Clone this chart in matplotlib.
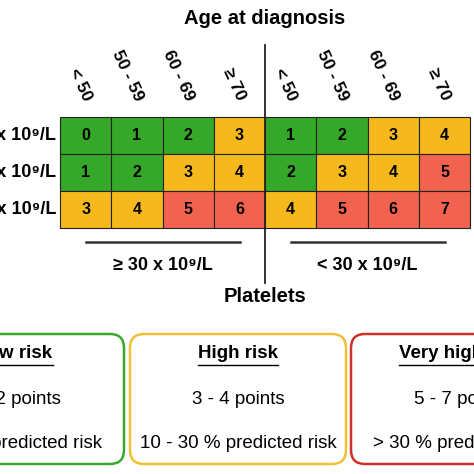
import matplotlib
matplotlib.use("Agg")
import matplotlib.pyplot as plt
from matplotlib.patches import Rectangle, FancyBboxPatch

age_groups = ["< 50", "50 - 59", "60 - 69", "≥ 70"]
row_labels = ["≥ 100 x 10⁹/L", "50 - 99 x 10⁹/L", "< 50 x 10⁹/L"]
scores_high_plt = [[0, 1, 2, 3], [1, 2, 3, 4], [3, 4, 5, 6]]
scores_low_plt = [[1, 2, 3, 4], [2, 3, 4, 5], [4, 5, 6, 7]]
block_labels = ["≥ 30 x 10⁹/L", "< 30 x 10⁹/L"]
risk_titles = ["Low risk", "High risk", "Very high risk"]
risk_points = ["0 - 2 points", "3 - 4 points", "5 - 7 points"]
risk_pred = ["< 10 % predicted risk", "10 - 30 % predicted risk", "> 30 % predicted risk"]

GREEN, AMBER, RED = "#36a829", "#f6b91d", "#f2634f"
def col(v):
    return GREEN if v <= 2 else (AMBER if v <= 4 else RED)

fig = plt.figure(figsize=(4.74, 4.74), dpi=100)
ax = fig.add_axes([0, 0, 1, 1])
ax.set_xlim(0, 474); ax.set_ylim(474, 0); ax.axis("off")
F = "Liberation Sans"

x0s = [60, 265]; cw = 51.3; y0 = 117; rh = 37
for b, data in enumerate([scores_high_plt, scores_low_plt]):
    for r, row in enumerate(data):
        for c, v in enumerate(row):
            x = x0s[b] + c * cw; y = y0 + r * rh
            ax.add_patch(Rectangle((x, y), cw, rh, facecolor=col(v), edgecolor="#222", lw=0.8))
            ax.text(x + cw / 2, y + rh / 2, str(v), ha="center", va="center", fontsize=11.5, fontweight="bold", family=F)
    for c, g in enumerate(age_groups):
        ax.text(x0s[b] + c * cw + cw / 2 + 2, 100, g, rotation=-65, ha="right", va="center",
                fontsize=12.5, fontweight="bold", family=F, rotation_mode="anchor")
    cx = x0s[b] + 2 * cw
    ax.plot([cx - 77, cx + 77], [242, 242], color="#333", lw=1.8)
    ax.text(cx, 266, block_labels[b], ha="center", va="center", fontsize=13, fontweight="bold", family=F)
for r, lab in enumerate(row_labels):
    ax.text(56, y0 + r * rh + rh / 2, lab, ha="right", va="center", fontsize=13, fontweight="bold", family=F)

ax.plot([265, 265], [45, 283], color="#222", lw=1.3)
ax.text(265, 18, "Age at diagnosis", ha="center", va="center", fontsize=14.5, fontweight="bold", family=F)
ax.text(265, 296, "Platelets", ha="center", va="center", fontsize=14.5, fontweight="bold", family=F)

boxes = [(-95, 124, "#3aa92e"), (130, 346, "#f0c035"), (351, 570, "#d0302a")]
title_objs = []
for i, (xa, xb, ec) in enumerate(boxes):
    ax.add_patch(FancyBboxPatch((xa, 334), xb - xa, 130, boxstyle="round,pad=0,rounding_size=14",
                                facecolor="white", edgecolor=ec, lw=1.8))
    cx = (xa + xb) / 2
    t = ax.text(cx, 354, risk_titles[i], ha="center", va="center", fontsize=13.5, fontweight="bold", family=F)
    title_objs.append(t)
    ax.text(cx, 399, risk_points[i], ha="center", va="center", fontsize=13.5, family=F)
    ax.text(cx, 443, risk_pred[i], ha="center", va="center", fontsize=13.5, family=F)

fig.canvas.draw()
inv = ax.transData.inverted()
for t in title_objs:
    bb = t.get_window_extent()
    (xa, _), (xb, _) = inv.transform([(bb.x0, bb.y0), (bb.x1, bb.y0)])
    ax.plot([xa, xb], [365, 365], color="black", lw=1.0)

fig.savefig("out.png", dpi=100)
